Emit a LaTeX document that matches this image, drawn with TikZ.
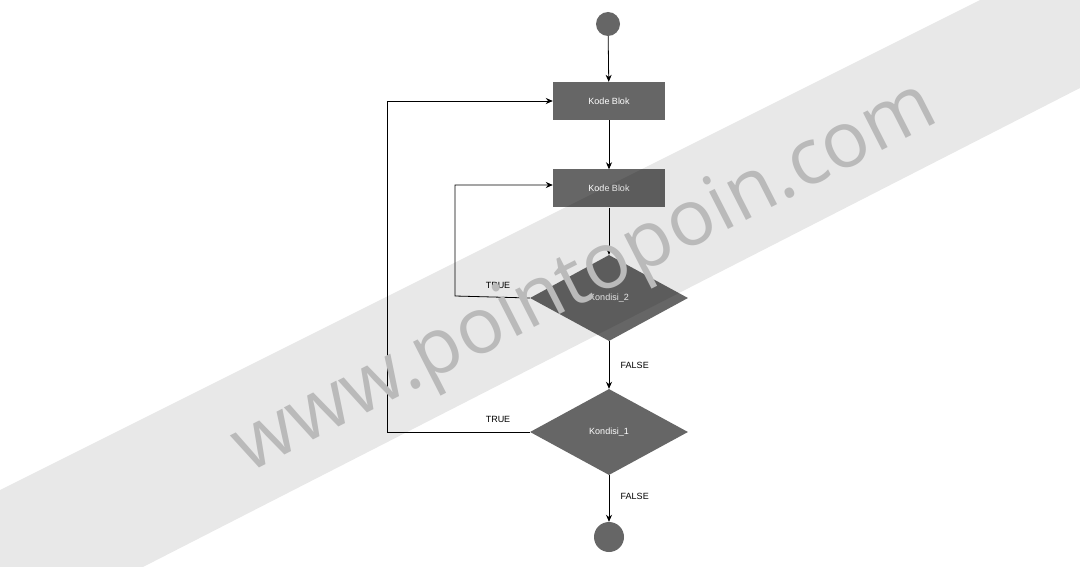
\documentclass[tikz,border=0pt]{standalone}
\usepackage{fontspec}
\setmainfont{Liberation Sans}
\newfontfamily\wmfont{Open Sans}
\usetikzlibrary{shapes.geometric,arrows.meta}
\begin{document}
\begin{tikzpicture}[x=1pt,y=-1pt,
  box/.style={draw=none,fill=black!60,text=white,minimum width=112pt,minimum height=38pt,font=\fontsize{9}{10}\selectfont},
  dia/.style={diamond,fill=black!60,text=white,minimum width=158pt,minimum height=86pt,inner sep=0pt,aspect=1.84,font=\fontsize{9}{10}\selectfont},
  term/.style={circle,fill=black!60,inner sep=0pt},
  arr/.style={-{Stealth[length=7pt,width=6pt]},line width=0.8pt},
  lab/.style={font=\fontsize{9}{10}\selectfont}]
\useasboundingbox (0,0) rectangle (1080,567);
\fill[white] (0,0) rectangle (1080,567);
\node[term,minimum size=24pt] (s) at (608,24) {};
\node[box] (b1) at (609,101) {Kode Blok};
\node[box] (b2) at (609,188.5) {Kode Blok};
\node[dia] (d2) at (609,298) {Kondisi\_2};
\node[dia] (d1) at (609,432) {Kondisi\_1};
\node[term,minimum size=30pt] (e) at (609,537) {};
\coordinate (c2a) at (455,296);
\coordinate (c2b) at (455,185);
\coordinate (c1a) at (387,432);
\coordinate (c1b) at (387,101);
\draw[arr] (s) -- (b1);
\draw[arr] (b1) -- (b2);
\draw[arr] (b2) -- (d2.north);
\draw[arr] (d2.south) -- node[lab,right=8pt,pos=0.5]{FALSE} (d1.north);
\draw[arr] (d1.south) -- node[lab,right=8pt,pos=0.45]{FALSE} (e);
\draw[arr] (d2.west) -- (c2a) -- (c2b) -- (b2.west |- c2b);
\draw[arr] (d1.west) -- (c1a) -- (c1b) -- (b1.west);
\node[lab] (t2) at (498,285) {TRUE};
\node[lab] (t1) at (498,419) {TRUE};
\fill[black,opacity=0.09] (0,490) -- (980,0) -- (1080,0) -- (1080,88) -- (143,567) -- (0,567) -- cycle;
\node[text=black!27,rotate=27,font=\wmfont\fontsize{78}{86}\selectfont] (wm) at (586,280) {www.pointopoin.com};
\end{tikzpicture}
\end{document}
